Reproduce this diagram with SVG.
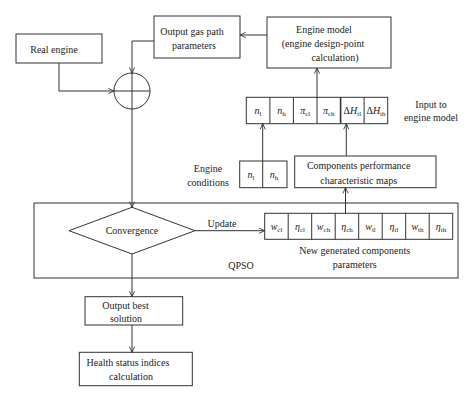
<svg xmlns="http://www.w3.org/2000/svg" width="474" height="402" viewBox="0 0 474 402">
<defs>
<marker id="arr" viewBox="0 0 8 8" refX="7.5" refY="4" markerWidth="7" markerHeight="7" markerUnits="userSpaceOnUse" orient="auto">
<path d="M1,1 L7.5,4 L1,7" fill="none" stroke="#333" stroke-width="1"/>
</marker>
</defs>
<style>
rect, polygon, circle { fill: #fff; stroke: #333; stroke-width: 1; }
.ln { fill: none; stroke: #333; stroke-width: 1; }
text { font-family: "Liberation Serif", "DejaVu Serif", serif; font-size: 10px; fill: #222; text-anchor: middle; }
.i { font-style: italic; }
.s { font-size: 7px; }
</style>
<rect width="474" height="402" style="fill:#fff;stroke:none"/>

<g id="qpso">
<rect x="34" y="203" width="424" height="75"/>
<text x="241" y="269">QPSO</text>
</g>

<g id="real-engine">
<rect x="16" y="34" width="86" height="29"/>
<text x="54" y="53">Real engine</text>
</g>

<g id="output-gas-path">
<rect x="154" y="16" width="86" height="42"/>
<text x="192" y="35">Output gas path</text>
<text x="194" y="48.5">parameters</text>
</g>

<g id="engine-model">
<rect x="267" y="17" width="124" height="51"/>
<text x="324" y="32.5">Engine model</text>
<text x="323" y="46.5">(engine design-point</text>
<text x="335" y="60.5">calculation)</text>
</g>

<g id="sum">
<circle cx="132" cy="91" r="18"/>
<path class="ln" d="M114,91 H150 M132,73 V109"/>
</g>

<g id="input-row">
<rect x="246.3" y="97.3" width="141.4" height="26.4"/>
<path class="ln" d="M269.9,97.3 V123.7 M293.4,97.3 V123.7 M317,97.3 V123.7 M364.1,97.3 V123.7"/>
<path class="ln" style="stroke-width:1.6" d="M340.6,97.3 V123.7"/>
<text x="258" y="113.5"><tspan class="i">n</tspan><tspan class="s" dy="2">l</tspan></text>
<text x="281.6" y="113.5"><tspan class="i">n</tspan><tspan class="s" dy="2">h</tspan></text>
<text x="305.2" y="113.5"><tspan class="i">π</tspan><tspan class="s" dy="2">cl</tspan></text>
<text x="328.8" y="113.5"><tspan class="i">π</tspan><tspan class="s" dy="2">ch</tspan></text>
<text x="352.4" y="113.5">Δ<tspan class="i">H</tspan><tspan class="s" dy="2">tl</tspan></text>
<text x="376" y="113.5">Δ<tspan class="i">H</tspan><tspan class="s" dy="2">th</tspan></text>
<text x="431" y="107.5">Input to</text>
<text x="431" y="120.5">engine model</text>
</g>

<g id="engine-conditions">
<rect x="239.7" y="161" width="47.3" height="26.7"/>
<path class="ln" d="M262.7,161 V187.7"/>
<text x="251" y="177.5"><tspan class="i">n</tspan><tspan class="s" dy="2">l</tspan></text>
<text x="274" y="177.5"><tspan class="i">n</tspan><tspan class="s" dy="2">h</tspan></text>
<text x="208" y="171.5">Engine</text>
<text x="208" y="185.5">conditions</text>
</g>

<g id="components-maps">
<rect x="294.7" y="156" width="141.3" height="31.7"/>
<text x="358.7" y="169">Components performance</text>
<text x="358.7" y="183.5">characteristic maps</text>
</g>

<g id="convergence">
<polygon points="69,230.7 132,207.3 195,230.7 132,254"/>
<text x="132" y="234">Convergence</text>
</g>

<g id="new-params">
<rect x="264.7" y="213.3" width="188" height="26"/>
<path class="ln" d="M288.2,213.3 V239.3 M311.7,213.3 V239.3 M335.2,213.3 V239.3 M358.7,213.3 V239.3 M382.2,213.3 V239.3 M405.7,213.3 V239.3 M429.2,213.3 V239.3"/>
<text x="276.5" y="229.5"><tspan class="i">w</tspan><tspan class="s" dy="2">cl</tspan></text>
<text x="300" y="229.5"><tspan class="i">η</tspan><tspan class="s" dy="2">cl</tspan></text>
<text x="323.5" y="229.5"><tspan class="i">w</tspan><tspan class="s" dy="2">ch</tspan></text>
<text x="347" y="229.5"><tspan class="i">η</tspan><tspan class="s" dy="2">ch</tspan></text>
<text x="370.5" y="229.5"><tspan class="i">w</tspan><tspan class="s" dy="2">tl</tspan></text>
<text x="394" y="229.5"><tspan class="i">η</tspan><tspan class="s" dy="2">tl</tspan></text>
<text x="417.5" y="229.5"><tspan class="i">w</tspan><tspan class="s" dy="2">th</tspan></text>
<text x="441" y="229.5"><tspan class="i">η</tspan><tspan class="s" dy="2">th</tspan></text>
<text x="354.7" y="254">New generated components</text>
<text x="354.7" y="267.5">parameters</text>
</g>

<g id="output-best">
<rect x="85" y="296.7" width="97.7" height="28.3"/>
<text x="125.5" y="308.5">Output best</text>
<text x="126" y="321.5">solution</text>
</g>

<g id="health-status">
<rect x="79.3" y="352.3" width="113" height="33.4"/>
<text x="128" y="366">Health status indices</text>
<text x="131" y="380">calculation</text>
</g>

<g id="connectors">
<path class="ln" marker-end="url(#arr)" d="M59,63 V91 H114"/>
<path class="ln" marker-end="url(#arr)" d="M154,41 H132 V73"/>
<path class="ln" marker-end="url(#arr)" d="M132,109 V207.3"/>
<path class="ln" marker-end="url(#arr)" d="M195,230.7 H264.7"/>
<text x="222" y="226.5">Update</text>
<path class="ln" marker-end="url(#arr)" d="M132,254 V296.7"/>
<path class="ln" marker-end="url(#arr)" d="M132,325 V352.3"/>
<path class="ln" marker-end="url(#arr)" d="M345.5,213.3 V187.7"/>
<path class="ln" marker-end="url(#arr)" d="M346.3,156 V123.7"/>
<path class="ln" marker-end="url(#arr)" d="M262.7,161 V123.7"/>
<path class="ln" marker-end="url(#arr)" d="M317,97.3 V68"/>
<path class="ln" marker-end="url(#arr)" d="M267,35 H240"/>
</g>
</svg>
